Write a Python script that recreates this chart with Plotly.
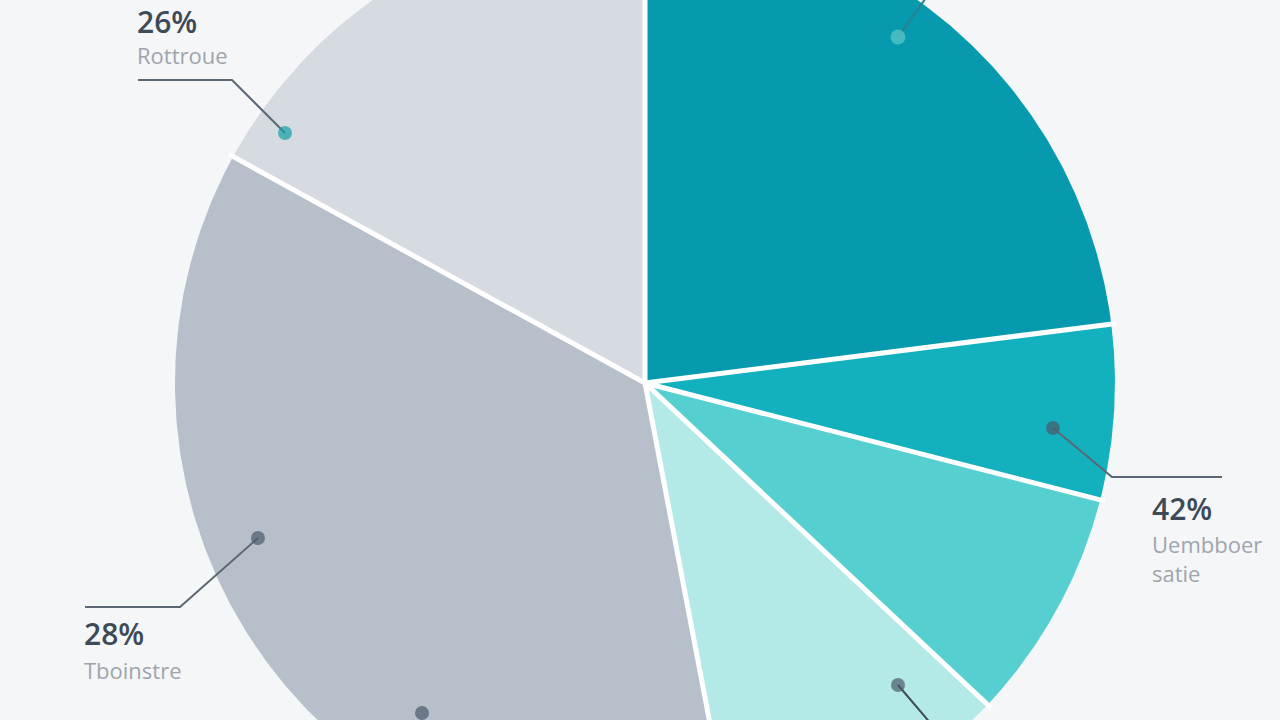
import numpy as np
import plotly.graph_objects as go

# slice shares, clockwise from 12 o'clock
slices = ['s1', 's2', 's3', 's4', 's5', 's6']
shares = [23, 6, 8, 10, 36, 17]
colors = ['#0799ad', '#13b1be', '#55cfcf', '#b3e9e7', '#b7bfca', '#d6dae1']

# callout labels
callout_pct = ['26%', '42%', '28%']
callout_txt = ['Rottroue', 'Uembboer<br>satie', 'Tboinstre']

W, H = 1280, 720
cx, cy, r = 645, 383, 470
bg = '#f4f6f8'

fig = go.Figure()

total = sum(shares)
edges = np.cumsum([0] + shares) / total * 2 * np.pi

for i, name in enumerate(slices):
    t = np.linspace(edges[i], edges[i + 1], 200)
    xs = np.concatenate([[cx], cx + r * np.sin(t), [cx]])
    ys = np.concatenate([[cy], cy - r * np.cos(t), [cy]])
    fig.add_trace(go.Scatter(
        x=xs, y=ys, mode='lines', fill='toself',
        fillcolor=colors[i], line=dict(width=0),
        name=name, hoverinfo='name', showlegend=False
    ))

# white separators between slices
for a in edges[:-1]:
    fig.add_shape(type='line', x0=cx, y0=cy,
                  x1=cx + (r + 5) * np.sin(a), y1=cy - (r + 5) * np.cos(a),
                  line=dict(color='white', width=5))

# leader lines
lc = '#5b6773'
leaders = [
    [(138, 80), (232, 80), (285, 133)],
    [(1053, 428), (1112, 477), (1222, 477)],
    [(258, 538), (180, 607), (85, 607)],
]
for pts in leaders:
    fig.add_trace(go.Scatter(
        x=[p[0] for p in pts], y=[p[1] for p in pts], mode='lines',
        line=dict(color=lc, width=2), hoverinfo='skip', showlegend=False
    ))
fig.add_trace(go.Scatter(x=[898, 928], y=[37, -5], mode='lines',
                         line=dict(color='#2f7f8c', width=2), hoverinfo='skip', showlegend=False))
fig.add_trace(go.Scatter(x=[898, 932], y=[685, 725], mode='lines',
                         line=dict(color='#3e4b58', width=2), hoverinfo='skip', showlegend=False))

# dots
fig.add_trace(go.Scatter(
    x=[285, 898, 1053, 258, 898, 422],
    y=[133, 37, 428, 538, 685, 713],
    mode='markers',
    marker=dict(size=[14, 15, 14, 14, 14, 14],
                color=['#159fa6', '#5cc9c9', '#4a5a6b', '#4a5a6b', '#4a5a6b', '#4a5a6b'],
                line=dict(width=0)),
    hoverinfo='skip', showlegend=False
))

# (x, top of percent, top of label)
pos = [(136, 0, 39), (1151, 487, 528), (83, 612, 654)]
for (x, yp, yt), p, t in zip(pos, callout_pct, callout_txt):
    fig.add_annotation(x=x, y=yp, text=p, showarrow=False, xanchor='left', yanchor='top',
                       borderpad=0,
                       font=dict(family='Open Sans', size=30, color='#3d4a57', weight=600))
    fig.add_annotation(x=x, y=yt, text=t, showarrow=False, xanchor='left', yanchor='top',
                       borderpad=0,
                       font=dict(family='Open Sans', size=22, color='#9ea5ad'),
                       align='left')

fig.update_layout(
    width=W, height=H,
    margin=dict(l=0, r=0, t=0, b=0),
    paper_bgcolor=bg, plot_bgcolor=bg,
    xaxis=dict(range=[0, W], visible=False, fixedrange=True),
    yaxis=dict(range=[H, 0], visible=False, fixedrange=True),
)

fig.write_html("out.html", config={'displayModeBar': False},
               post_script="document.body.style.margin='0';")
